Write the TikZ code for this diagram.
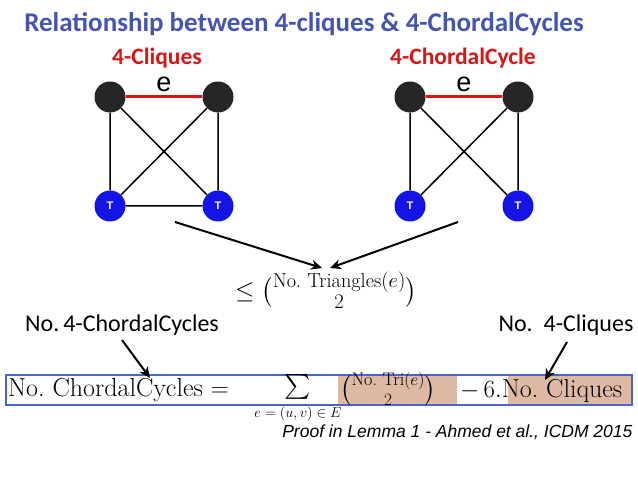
\documentclass[tikz,border=0pt]{standalone}
\usepackage{fontspec}
\usepackage{amsmath}
\usetikzlibrary{arrows.meta}
\newfontfamily\carl{Carlito}
\newfontfamily\arial{Liberation Sans}
\definecolor{ttl}{RGB}{68,84,176}
\definecolor{redl}{RGB}{220,20,20}
\definecolor{tnode}{RGB}{20,20,230}
\definecolor{hl}{RGB}{222,186,164}
\definecolor{boxb}{RGB}{70,100,210}
\tikzset{
 blk/.style={circle,fill=black!85,minimum size=31pt,inner sep=0pt},
 tn/.style={circle,fill=tnode,minimum size=31pt,inner sep=0pt,text=white,font=\arial\bfseries\fontsize{11}{11}\selectfont},
 ed/.style={line width=1.5pt},
 ee/.style={line width=3pt,redl},
 arr/.style={line width=2pt,-{Stealth[length=11pt,width=10pt]}},
 lab/.style={font=\carl\fontsize{24}{24}\selectfont},
}
\begin{document}
\begin{tikzpicture}[x=1pt,y=-1pt]
\useasboundingbox (0,0) rectangle (638,478);
\node[text=ttl,font=\carl\bfseries\fontsize{27}{27}\selectfont] (title) at (304,24) {Relationship between 4-cliques \& 4-ChordalCycles};
\node[text=redl,font=\carl\bfseries\fontsize{23.5}{23.5}\selectfont] (l1) at (157,58) {4-Cliques};
\node[text=redl,font=\carl\bfseries\fontsize{23.5}{23.5}\selectfont] (l2) at (463,58) {4-ChordalCycle};
% left graph
\node[blk] (a1) at (110,97) {};
\node[blk] (a2) at (218,97) {};
\node[tn] (a3) at (110,206) {T};
\node[tn] (a4) at (218,206) {T};
\draw[ed] (a1)--(a3) (a2)--(a4) (a1)--(a4) (a2)--(a3) (a3)--(a4);
\draw[ee] (a1)--(a2);
\node[font=\arial\fontsize{27}{27}\selectfont] (e1) at (164,84) {e};
% right graph
\node[blk] (b1) at (410,97) {};
\node[blk] (b2) at (518,97) {};
\node[tn] (b3) at (410,206) {T};
\node[tn] (b4) at (518,206) {T};
\draw[ed] (b1)--(b3) (b2)--(b4) (b1)--(b4) (b2)--(b3);
\draw[ee] (b1)--(b2);
\node[font=\arial\fontsize{27}{27}\selectfont] (e2) at (464,84) {e};
% inequality
\node[font=\fontsize{29}{29}\selectfont] (ineq) at (326,290) {$\le \binom{\text{No.\ Triangles}(e)}{2}$};
\coordinate (s1) at (175,222);
\coordinate (s2) at (458,222);
\coordinate (t1) at (322,268);
\coordinate (t2) at (330,268);
\draw[arr] (s1) -- (t1);
\draw[arr] (s2) -- (t2);
\node[lab] (c1) at (122,325) {No.\,4-ChordalCycles};
\node[lab] (c2) at (566,325) {No.~~4-Cliques};
% formula box
\fill[hl] (338,375) rectangle (457,405);
\fill[hl] (508,375) rectangle (631,405);
\draw[boxb,line width=1.2pt] (6,375) rectangle (632,405);
\node[anchor=west,font=\fontsize{26}{26}\selectfont,inner sep=0] (f1) at (8,390) {No.\ ChordalCycles $=$};
\node[font=\fontsize{26}{26}\selectfont,inner sep=0] (sum) at (298,387) {$\sum$};
\node[font=\fontsize{15}{15}\selectfont,inner sep=0] (sub) at (298,414) {$e=(u,v)\in E$};
\node[anchor=west,font=\fontsize{26}{26}\selectfont,inner sep=0] (f2) at (340,389) {$\binom{\text{No.\ Tri}(e)}{2}$};
\node[anchor=west,font=\fontsize{26}{26}\selectfont,inner sep=0] (f3) at (460,391) {$-\,6.$No.\ Cliques};
\coordinate (p1) at (122,340);
\coordinate (q1) at (150,378);
\coordinate (p2) at (567,342);
\coordinate (q2) at (545,380);
\draw[arr] (p1) -- (q1);
\draw[arr] (p2) -- (q2);
\node[anchor=east,font=\arial\itshape\fontsize{17.5}{17.5}\selectfont] (proof) at (636,432) {Proof in Lemma 1 - Ahmed et al., ICDM 2015};
\end{tikzpicture}
\end{document}
